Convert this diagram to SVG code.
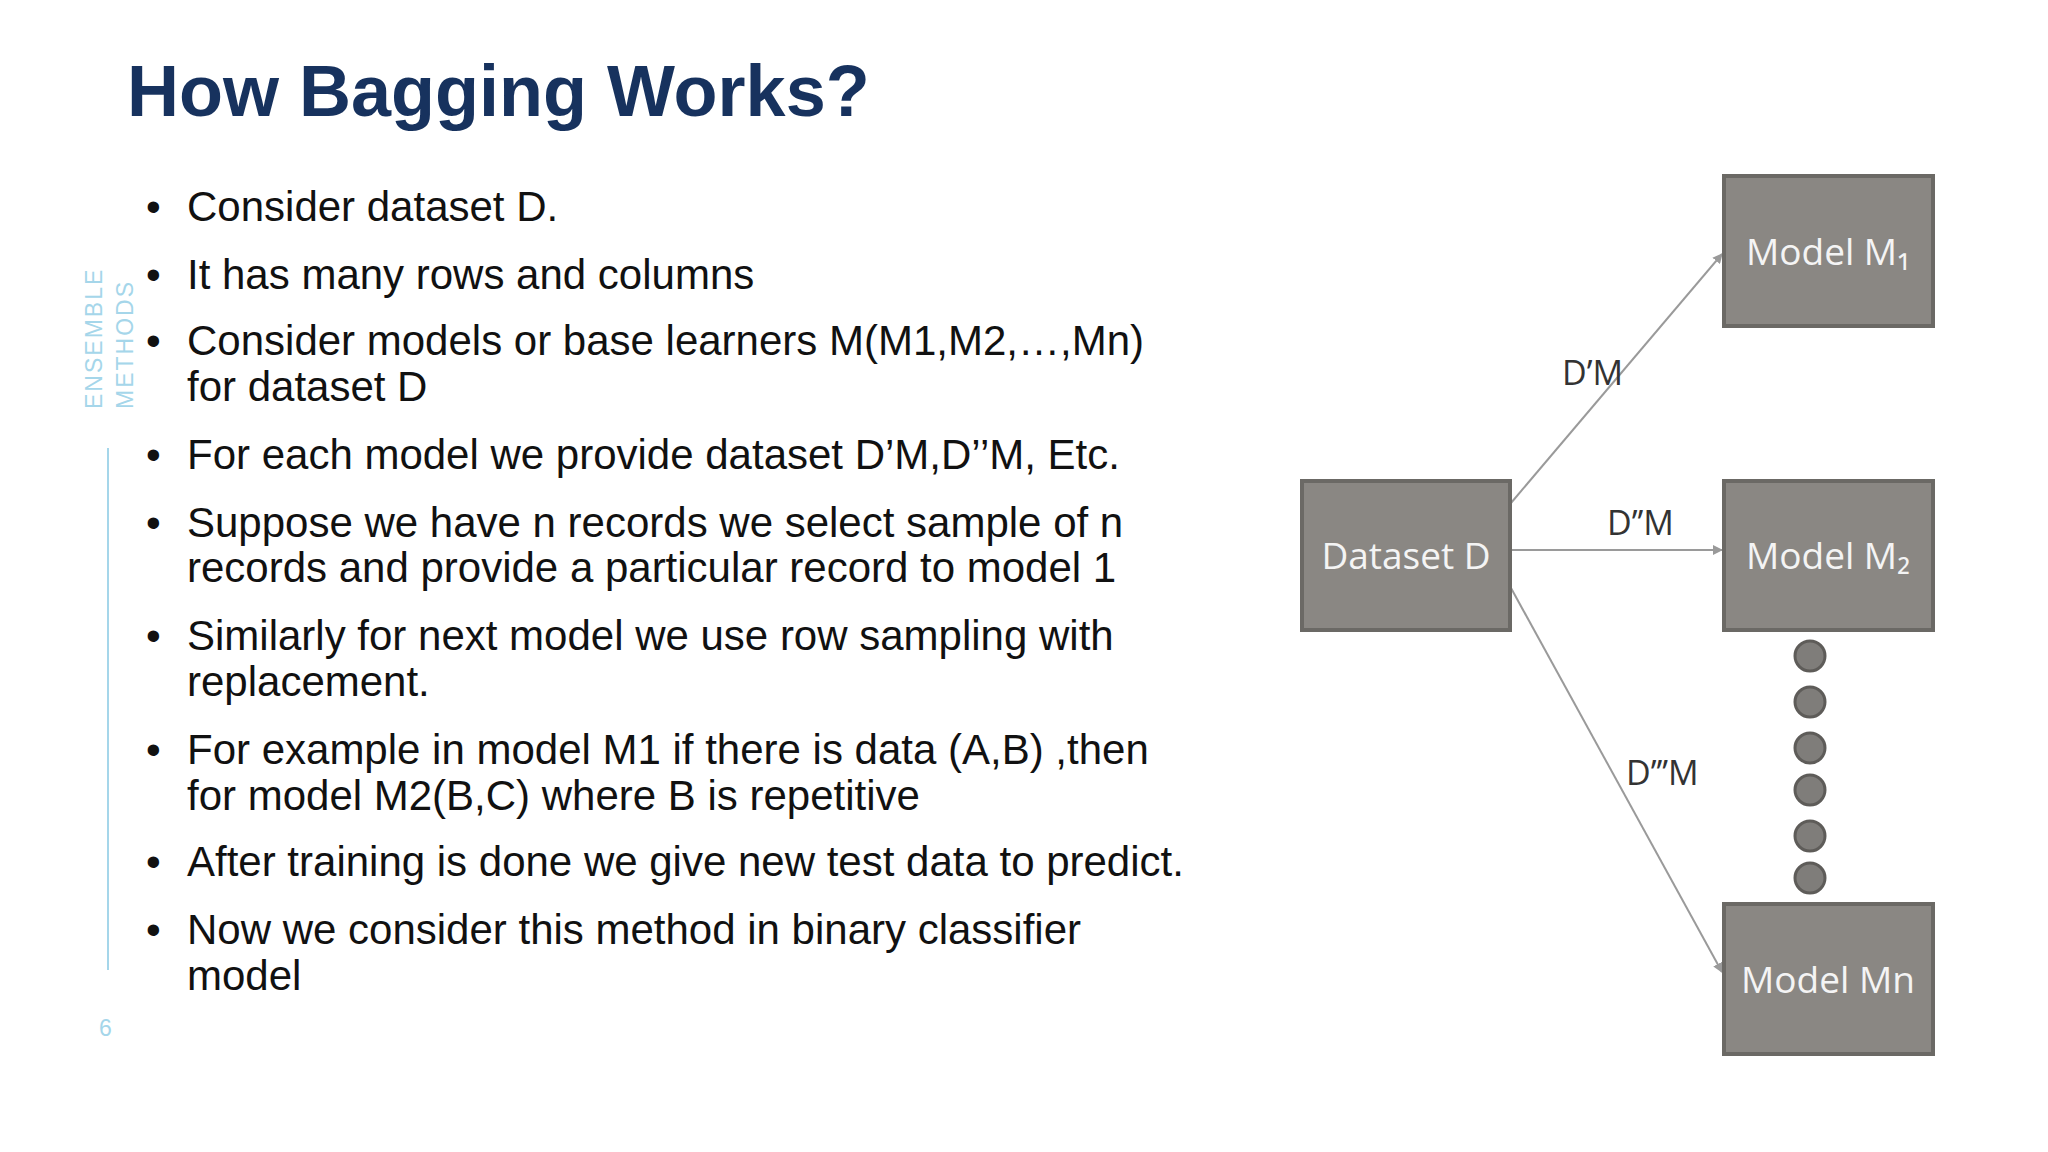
<svg xmlns="http://www.w3.org/2000/svg" width="2048" height="1152" viewBox="0 0 2048 1152">
<defs>
<style>
.b{font-family:"Liberation Sans",Arial,sans-serif;font-size:42px;fill:#111}
.box{fill:#8a8783;stroke:#6b6965;stroke-width:4}
.bt{font-family:"Open Sans","DejaVu Sans",sans-serif;font-size:37px;fill:#f4f4f4;text-anchor:middle}
.lbl{font-family:"Open Sans","DejaVu Sans",sans-serif;font-size:34px;fill:#333}
.con{stroke:#9a9a9a;stroke-width:2;fill:none;marker-end:url(#ah)}
.dot{fill:#7f7d7a;stroke:#5e5c59;stroke-width:3}
.side{font-family:"Liberation Sans",Arial,sans-serif;font-size:23px;fill:#a5d6ea;letter-spacing:2px}
</style>
<marker id="ah" viewBox="0 0 10 10" refX="9" refY="5" markerWidth="5" markerHeight="5" orient="auto"><path d="M0,0L10,5L0,10z" fill="#9a9a9a"/></marker>
</defs>
<rect width="2048" height="1152" fill="#fff"/>
<text x="127" y="116" font-family="Liberation Sans,Arial,sans-serif" font-weight="bold" font-size="72" fill="#17325e">How Bagging Works?</text>
<text class="side" transform="translate(102,409) rotate(-90)">ENSEMBLE</text>
<text class="side" transform="translate(133,409) rotate(-90)">METHODS</text>
<line x1="108" y1="448" x2="108" y2="970" stroke="#a5d6ea" stroke-width="2"/>
<text x="99" y="1036" font-family="Liberation Sans,Arial,sans-serif" font-size="23" fill="#a5d6ea">6</text>
<g id="bullets" class="b">
<text x="146" y="221">•</text><text x="187" y="221">Consider dataset D.</text>
<text x="146" y="289">•</text><text x="187" y="289">It has many rows and columns</text>
<text x="146" y="355">•</text><text x="187" y="355">Consider models or base learners M(M1,M2,…,Mn)</text>
<text x="187" y="401">for dataset D</text>
<text x="146" y="469">•</text><text x="187" y="469">For each model we provide dataset D’M,D’’M, Etc.</text>
<text x="146" y="537">•</text><text x="187" y="537">Suppose we have n records we select sample of n</text>
<text x="187" y="582">records and provide a particular record to model 1</text>
<text x="146" y="650">•</text><text x="187" y="650">Similarly for next model we use row sampling with</text>
<text x="187" y="696">replacement.</text>
<text x="146" y="764">•</text><text x="187" y="764">For example in model M1 if there is data (A,B) ,then</text>
<text x="187" y="810">for model M2(B,C) where B is repetitive</text>
<text x="146" y="876">•</text><text x="187" y="876">After training is done we give new test data to predict.</text>
<text x="146" y="944">•</text><text x="187" y="944">Now we consider this method in binary classifier</text>
<text x="187" y="990">model</text>
</g>
<g id="connectors">
<line class="con" x1="1511" y1="503" x2="1722" y2="254"/>
<line class="con" x1="1511" y1="550" x2="1722" y2="550"/>
<line class="con" x1="1511" y1="588" x2="1722" y2="972"/>
<text class="lbl" x="1562" y="385">D’M</text>
<text class="lbl" x="1607" y="535">D’’M</text>
<text class="lbl" x="1626" y="785">D’’’M</text>
</g>
<g id="dataset"><rect class="box" x="1302" y="481" width="208" height="149"/><text class="bt" x="1406" y="569">Dataset D</text></g>
<g id="m1"><rect class="box" x="1724" y="176" width="209" height="150"/><text class="bt" x="1828" y="265">Model M₁</text></g>
<g id="m2"><rect class="box" x="1724" y="481" width="209" height="149"/><text class="bt" x="1828" y="569">Model M₂</text></g>
<g id="mn"><rect class="box" x="1724" y="904" width="209" height="150"/><text class="bt" x="1828" y="993">Model Mn</text></g>
<g id="dots">
<circle class="dot" cx="1810" cy="656" r="15"/>
<circle class="dot" cx="1810" cy="702" r="15"/>
<circle class="dot" cx="1810" cy="748" r="15"/>
<circle class="dot" cx="1810" cy="790" r="15"/>
<circle class="dot" cx="1810" cy="836" r="15"/>
<circle class="dot" cx="1810" cy="878" r="15"/>
</g>
</svg>
